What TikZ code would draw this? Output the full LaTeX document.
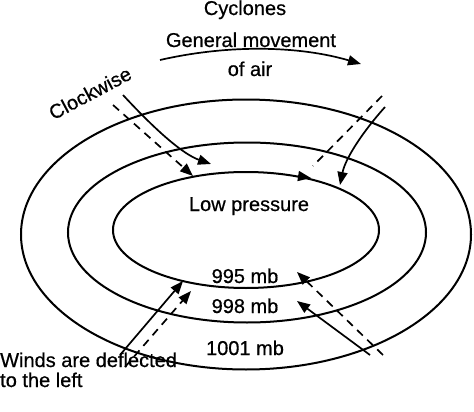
\documentclass[tikz,border=0pt]{standalone}
\usepackage{fontspec}
\setmainfont{Liberation Sans}[FakeBold=0.6]
\usetikzlibrary{arrows.meta}
\begin{document}
\begin{tikzpicture}[x=1pt,y=-1pt,
  ring/.style={line width=2pt},
  wind/.style={line width=1.7pt,-{Triangle[length=13pt,width=10pt]}},
  dwind/.style={line width=1.7pt,dash pattern=on 8pt off 6pt,-{Triangle[length=13pt,width=10pt]}},
  lbl/.style={font=\fontsize{20}{20}\selectfont,inner sep=0pt,anchor=base}]
\useasboundingbox (0,0) rectangle (474,412);
% isobars
\draw[ring] (246,234.5) ellipse [x radius=225, y radius=135];
\draw[ring] (247,232.5) ellipse [x radius=179, y radius=90];
\draw[ring] (246,230) ellipse [x radius=133, y radius=58];
% labels
\node[lbl] (cyc) at (245,15) {Cyclones};
\node[lbl] (gen) at (251,47) {General movement};
\node[lbl] (air) at (250,76) {of air};
\node[lbl,rotate=28,anchor=center] (cw) at (90,93) {Clockwise};
\node[lbl] (low) at (249,211) {Low pressure};
\node[lbl] (p995) at (245,283) {995 mb};
\node[lbl] (p998) at (245,313) {998 mb};
\node[lbl] (p1001) at (245,355) {1001 mb};
\node[lbl,anchor=base west,align=left] (wd) at (0,387) {Winds are deflected\\[0pt]to the left};
% movement arrow
\coordinate (m1) at (160,60);
\coordinate (m2) at (361,64);
\draw[wind] (m1) .. controls (230,44) and (300,46) .. (m2);
% top left
\coordinate (tl1) at (123,95);
\coordinate (tl2) at (211,164);
\coordinate (tl3) at (113,105);
\coordinate (tl4) at (193,176);
\draw[wind] (tl1) .. controls (160,135) and (185,155) .. (tl2);
\draw[dwind] (tl3) -- (tl4);
% top right
\coordinate (tr1) at (385,107);
\coordinate (tr2) at (340,185);
\coordinate (tr3) at (382,96);
\coordinate (tr4) at (313,166);
\coordinate (tr5) at (298,176);
\coordinate (tr6) at (311,178);
\draw[wind] (tr1) .. controls (360,135) and (345,160) .. (tr2);
\draw[line width=1.7pt,dash pattern=on 8pt off 6pt] (tr3) -- (tr4);
\draw[wind] (tr5) -- (tr6);
% bottom left
\coordinate (bl1) at (120,355);
\coordinate (bl2) at (183,281);
\coordinate (bl3) at (125,367);
\coordinate (bl4) at (191,291);
\draw[wind] (bl1) -- (bl2);
\draw[dwind] (bl3) -- (bl4);
% bottom right
\coordinate (br1) at (370,355);
\coordinate (br2) at (297,301);
\coordinate (br3) at (383,355);
\coordinate (br4) at (297,272);
\draw[wind] (br1) -- (br2);
\draw[dwind] (br3) -- (br4);
\end{tikzpicture}
\end{document}
